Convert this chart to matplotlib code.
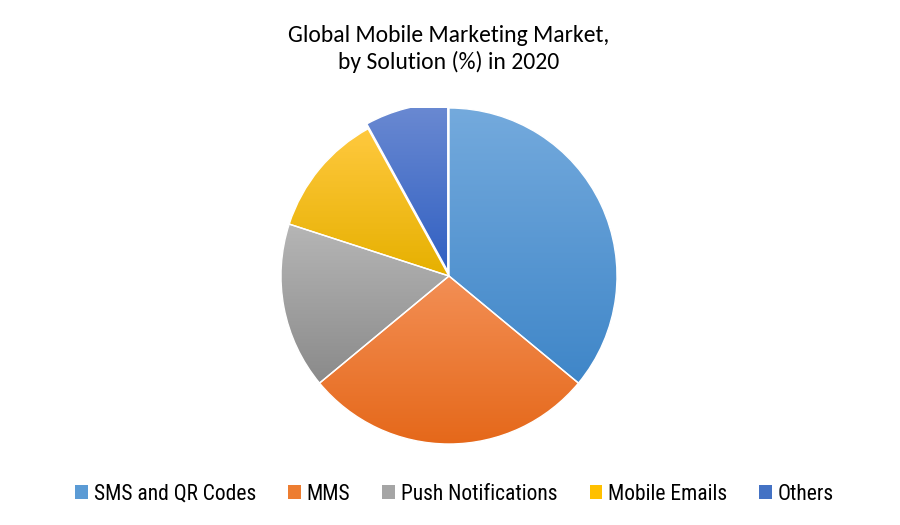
import numpy as np
import matplotlib
matplotlib.use("Agg")
import matplotlib.pyplot as plt
from matplotlib import font_manager
from matplotlib.patches import Patch
from matplotlib.colors import LinearSegmentedColormap

categories = ["SMS and QR Codes", "MMS", "Push Notifications", "Mobile Emails", "Others"]
values = [36, 28, 16, 12, 8]
title = "Global Mobile Marketing Market,\nby Solution (%) in 2020"

base_colors = ["#5b9bd5", "#ed7d31", "#a5a5a5", "#ffc000", "#4472c4"]
top_colors = ["#74aadd", "#f38f55", "#b6b6b6", "#ffc93f", "#6b8ad2"]
bot_colors = ["#3f86c8", "#e5681a", "#8a8a8a", "#e6b000", "#3160c2"]
explode = [0, 0, 0, 0, 0.03]

names = {f.name for f in font_manager.fontManager.ttflist}
def pick(cands):
    for c in cands:
        if c in names:
            return c
    return "DejaVu Sans"
title_font = pick(["Carlito", "Lato", "Open Sans", "Liberation Sans"])
legend_font = pick(["Liberation Sans Narrow", "Roboto Condensed", "Liberation Sans", "Roboto"])

fig = plt.figure(figsize=(9, 5.25), dpi=100)
ax = fig.add_axes([281/900, 81/525, 336/900, 336/525])
ax.set_xlim(-1, 1)
ax.set_ylim(-1, 1)
ax.set_aspect("equal")
ax.axis("off")

wedges, _ = ax.pie(values, startangle=90, counterclock=False, radius=1.0,
                   explode=explode, colors=base_colors,
                   wedgeprops=dict(edgecolor="white", linewidth=1.0))

for w, tc, bc in zip(wedges, top_colors, bot_colors):
    verts = w.get_path().vertices
    ys = verts[:, 1]
    xs = verts[:, 0]
    cmap = LinearSegmentedColormap.from_list("g", [bc, tc])
    grad = np.linspace(0, 1, 256).reshape(-1, 1)
    im = ax.imshow(grad, cmap=cmap, origin="lower",
                   extent=[xs.min(), xs.max(), ys.min(), ys.max()],
                   aspect="auto", zorder=w.get_zorder() + 0.1)
    im.set_clip_path(w)
    w.set_zorder(w.get_zorder() + 0.2)
    w.set_facecolor("none")

ax.set_xlim(-1, 1)
ax.set_ylim(-1, 1)

fig.text(0.499, 1 - 49/525, title, ha="center", va="center", fontsize=17,
         family=title_font, linespacing=1.32, color="#000000")

handles = [Patch(facecolor=c, edgecolor="none") for c in base_colors]
leg = fig.legend(handles, categories, loc="center", bbox_to_anchor=(0.505, 1 - 494/525),
                 ncol=5, frameon=False, handlelength=0.6, handleheight=0.6,
                 handletextpad=0.25, columnspacing=1.5,
                 prop=dict(family=legend_font, size=15.5))
fig.savefig("out.png", dpi=100, facecolor="white")
